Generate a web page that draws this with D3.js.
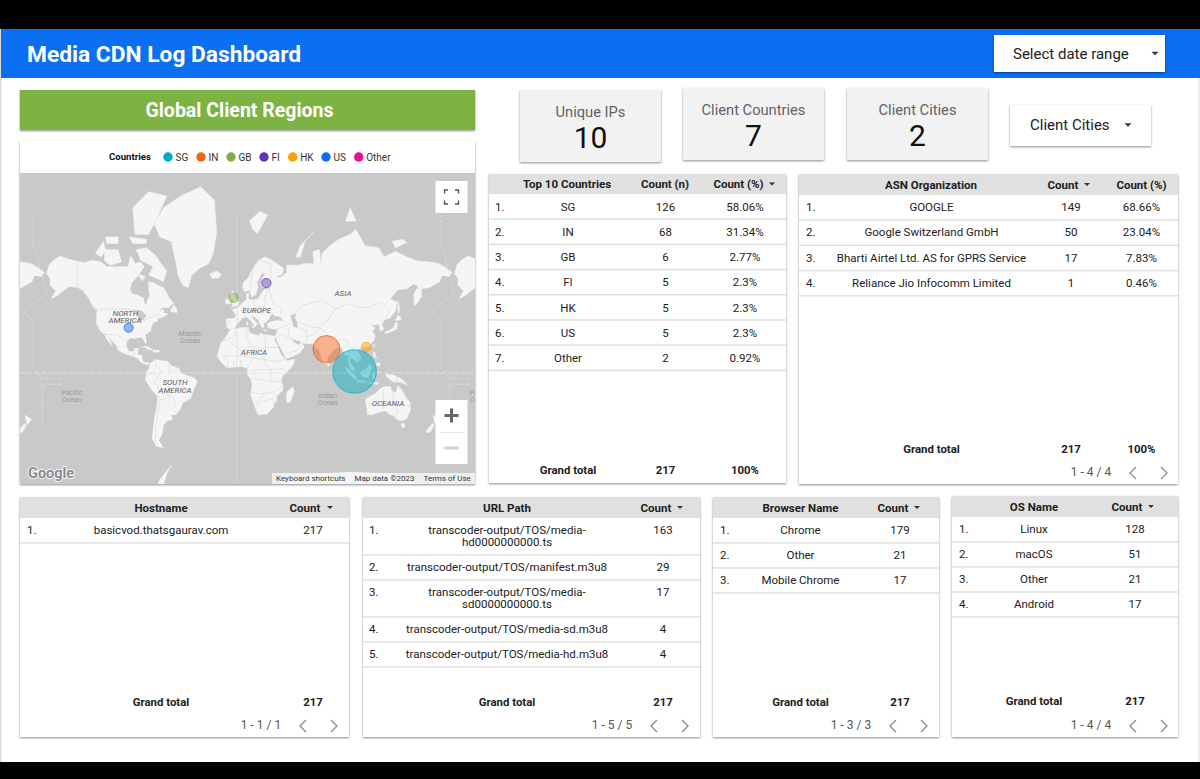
<!DOCTYPE html>
<html>
<head>
<meta charset="utf-8">
<title>Media CDN Log Dashboard</title>
<script src="https://cdn.jsdelivr.net/npm/d3@7"></script>
<style>
    html, body { margin: 0; padding: 0; background: #000; }
    svg { display: block; font-family: Roboto, sans-serif; }
</style>
</head>
<body>
<svg id="board" width="1200" height="779"></svg>
<script>
// table values
const countryNames = ["SG", "IN", "GB", "FI", "HK", "US", "Other"];
const countryCounts = [126, 68, 6, 5, 5, 5, 2];
const countryShares = ["58.06%", "31.34%", "2.77%", "2.3%", "2.3%", "2.3%", "0.92%"];
const countryColors = ["#00acc1", "#f9620e", "#7cb342", "#5e35b1", "#ffa000", "#0d6efd", "#ec0a8c"];
const countryCoords = [[103.8, 1.35], [79, 20.6], [-3.2, 55.2], [25.9, 61.9], [114.1, 22.4], [-95.7, 37.1], null];

const asnNames = ["GOOGLE", "Google Switzerland GmbH", "Bharti Airtel Ltd. AS for GPRS Service", "Reliance Jio Infocomm Limited"];
const asnCounts = [149, 50, 17, 1];
const asnShares = ["68.66%", "23.04%", "7.83%", "0.46%"];

const hostNames = ["basicvod.thatsgaurav.com"];
const hostCounts = [217];

const urlPaths = [
    ["transcoder-output/TOS/media-", "hd0000000000.ts"],
    ["transcoder-output/TOS/manifest.m3u8"],
    ["transcoder-output/TOS/media-", "sd0000000000.ts"],
    ["transcoder-output/TOS/media-sd.m3u8"],
    ["transcoder-output/TOS/media-hd.m3u8"]
];
const urlCounts = [163, 29, 17, 4, 4];

const browserNames = ["Chrome", "Other", "Mobile Chrome"];
const browserCounts = [179, 21, 17];

const osNames = ["Linux", "macOS", "Other", "Android"];
const osCounts = [128, 51, 21, 17];

const grandTotal = 217;

// rough land outlines in lon/lat for the base map
const landShapes = [
    // north america
    [[-168,65.5],[-166,68.5],[-162,70],[-156,71.3],[-150,70.5],[-141,69.7],[-135,69.3],[-128,70],[-120,69.5],[-115,68],[-108,68],[-100,68],[-96,68],[-94,71.5],[-90,69],[-85,69.5],[-82,68],[-87,65],[-93,62],[-94.5,59],[-92.5,57],[-88,56.5],[-82.5,55],[-82,52.5],[-80,51.3],[-79,54],[-77,56],[-78,59],[-78,62.5],[-73,62],[-70,61],[-65,60],[-62,57.5],[-60,55],[-56,52.5],[-60,50],[-66,50],[-70,47],[-65,49],[-65,47],[-61,46],[-66,44],[-70,43.5],[-70,41.7],[-74,40.5],[-76,37],[-76,35],[-81,32],[-80,27],[-80.5,25],[-82,27],[-83,29.5],[-86,30.3],[-90,29.2],[-94,29.5],[-97,27.5],[-97.8,22.5],[-95,18.5],[-91,18.7],[-90.5,21],[-87,21.5],[-88,16],[-84,15.5],[-83.5,11],[-81,9],[-78,9.2],[-77.3,8],[-80,7.5],[-83,8.3],[-86,10.5],[-88,13],[-92,14.5],[-96,16],[-101,17.5],[-105.5,20],[-105.5,22.5],[-109,26],[-112.5,29.5],[-114.5,31.5],[-112,27.5],[-110,23],[-112,25],[-115,28.5],[-117,32.5],[-120.5,34.5],[-124,40],[-124,46],[-123,49],[-128,51.5],[-131,55],[-136,58.5],[-141,60],[-148,60.5],[-152,59],[-158,56.5],[-164,54.7],[-160,58.5],[-165,61],[-165,64]],
    // greenland
    [[-73,78.5],[-65,81],[-50,82.5],[-32,83.5],[-20,82],[-18,77],[-21,72],[-25,69],[-33,67.5],[-40,65],[-43,60],[-48,61],[-52,65],[-54,69.5],[-58,75],[-68,76]],
    // canadian arctic
    [[-80,73.5],[-72,71.5],[-67,69],[-62,66.5],[-65,62.5],[-72,64],[-78,65],[-74,68],[-85,70],[-89,73]],
    [[-117,73],[-105,73],[-102,69.5],[-112,68.5],[-117,70]],
    [[-90,76.5],[-78,76.5],[-72,79],[-62,82.5],[-78,83],[-92,81]],
    [[-125,72],[-118,75],[-116,73],[-120,71]],
    [[-116,76],[-105,76],[-105,74.5],[-115,74.5]],
    [[-95,76],[-80,75.5],[-80,74.5],[-92,74.5]],
    [[-87,65.5],[-81,64.5],[-84,62.8]],
    [[-59,47.7],[-53,46.8],[-53,49],[-56,51.5]],
    [[-128,50.8],[-123.5,48.5],[-125,48.7]],
    // caribbean
    [[-85,22],[-80,23],[-75,20.5],[-74,20],[-78,20],[-82,22.5]],
    [[-74,19.8],[-69,19.8],[-68.5,18.3],[-74,18]],
    // south america
    [[-77,8],[-72,12],[-68,11],[-62,10.5],[-57,6],[-51,4],[-50,0],[-44,-2.5],[-38,-4],[-35,-7],[-37,-12],[-39,-17],[-41,-22],[-48,-25.5],[-50,-30],[-54,-34.5],[-58,-34.5],[-57,-38],[-62,-39],[-65,-42],[-66,-47],[-69,-51],[-65,-55],[-71,-54],[-75,-50],[-73.5,-42],[-73,-37],[-71,-30],[-70,-20],[-75,-15],[-81,-6],[-80,-2],[-80,1],[-77.5,4]],
    // africa
    [[-6,35.7],[3,37],[10,37.3],[11,33.5],[15,32.3],[20,31],[20,33],[25,32],[32,31],[34.3,31.3],[33,28],[35.5,24],[37.5,19],[39.5,15],[43,12],[44,10.7],[51,12],[49,6],[44,1],[40,-3],[39,-7],[40.5,-11],[40.5,-15],[35,-20],[35,-24],[32.7,-26],[32,-29],[27,-33.8],[20,-34.8],[18.3,-34],[15,-27],[12,-18],[13.5,-10],[12,-5],[9,-1],[9.5,4],[5,5.5],[0,5.5],[-4.5,5],[-8,4.5],[-12,7.5],[-15,11],[-17.5,14.7],[-16,20],[-14,26],[-10,30]],
    // eurasia, runs past 180 for chukotka
    [[-9,37],[-9.5,43],[-2,43.5],[-1,46],[-4.5,48.5],[1,50],[4,52],[8,54],[8.5,57],[10.5,57.5],[10,54.5],[14,54],[19,54.5],[21,57],[24,59],[30,60],[23,60],[21,61],[21.5,63],[25,65.5],[22,65.8],[17.5,62],[18.5,60],[16.5,56.5],[13,55.5],[11,59],[7,58],[5,60],[5.5,62],[10,64],[14,67.5],[19,70],[25,71],[31,70],[41,67.5],[40,65.5],[35,64.5],[38,64],[44,66],[44,68.5],[54,68.5],[60,69],[68,69],[67,72.5],[73,73],[74,68],[75,72],[82,74],[90,75.5],[100,76.5],[105,77.5],[113,74],[125,73.5],[130,71],[140,72.5],[150,71],[160,69.7],[170,69.5],[178,69],[185,67.5],[190,66],[187,64.5],[181,65],[179,62.5],[170,60],[163,59.5],[163,56],[160,53],[156.5,51],[156,57],[160,60.5],[156,61.5],[150,59.5],[142,59],[135,54.5],[141,53],[140,48],[135,43.5],[130,42.5],[128,39.5],[129.5,36],[126.5,34.5],[126,37.5],[125,39.5],[121,39],[118,39],[122,37],[119.5,35],[122,31],[121,28],[117,23.5],[113,22],[109,21.5],[106,19],[109,15],[109,11.5],[105,9],[105,10.5],[100.5,13.5],[99.5,10],[103.5,4],[104,1.5],[101,3],[98.5,8],[98,15],[94.5,16],[94,19],[91,22.5],[87,21],[82,16.5],[80,14],[79.5,10],[77.5,8],[75,12],[72.8,19],[72,21],[69,22],[67,25],[61,25.2],[57,25.5],[56,27],[51,28],[48.5,30],[50,26],[51.5,25.5],[54,24],[56.5,26],[59.5,22.5],[55,17],[45,13],[43,13],[39,21],[35,28],[34.5,31.3],[36,36],[32,36.2],[27.5,37],[26.5,39.5],[29,41],[35,42],[41,41.5],[38,44.5],[33,45],[31,46.5],[28,43],[26,41],[23.5,40.5],[24,38],[22.5,36.5],[19.5,41],[19,42.5],[14,45],[12.5,44.5],[16,41.5],[18.5,40],[16,38],[12.5,41.5],[9,44.3],[4,43.5],[3,42],[0,39.5],[-2,36.8],[-5.5,36]],
    // atlantic and arctic islands
    [[-5.5,50],[1.3,51.2],[1.5,52.8],[-1.5,55],[-2,57.5],[-4,58.6],[-6,57],[-5,55],[-3,53.5],[-5,52],[-3,51.4]],
    [[-10,52],[-6,52],[-6,55],[-8,55.3],[-10,54]],
    [[-24,65.5],[-18,66.5],[-14,65.5],[-16,64],[-22,63.8]],
    [[11,79],[20,80.5],[27,80],[18,76.7],[14,77.5]],
    [[52,71],[56,74],[68,77],[60,75],[56,71]],
    [[96,79],[105,79],[100,81]],
    [[137,75],[146,75.5],[150,74.8],[140,73.5]],
    // mediterranean islands
    [[12.5,38],[15.5,38.2],[15,36.8]],
    [[8.3,41],[9.7,41],[9.5,39],[8.5,39]],
    [[23.5,35.5],[26.3,35.3],[24,34.9]],
    // east asia and pacific
    [[142,54],[143.5,50],[143,46.5],[142,47],[142,51]],
    [[130,33],[132,34.5],[136,36],[139,38],[140,41],[142,40],[141,36],[137,34.5],[132,33]],
    [[140,42],[142,45.5],[145.3,43.3],[143,42]],
    [[120,23],[121.5,25],[121,22]],
    [[108.7,19.3],[110.5,20],[110.5,18.5]],
    [[120,16],[121,18.5],[122,17],[122,14],[124,13],[121,13.7]],
    [[122,7.5],[125.5,9.5],[126.5,7],[125,6]],
    [[95.5,5.5],[98,4],[104,-2],[106,-5.8],[102,-4],[98,0]],
    [[105.5,-6.3],[110,-6.5],[114.5,-7.5],[114,-8.6],[106,-7.5]],
    [[109,1],[113,3],[117,7],[119,5],[117.5,1],[116,-4],[110,-3]],
    [[119.5,0],[125,1.5],[121,-1],[122.5,-5],[120,-5.5]],
    [[131,-1],[138,-1.8],[145,-5],[150.5,-10.5],[144,-8],[138,-8],[133,-4]],
    [[116,-8.5],[125,-8.5],[124,-10],[117,-9]],
    [[80,9.5],[82,7.5],[80.5,6],[79.8,8]],
    [[49.3,-12],[50.5,-16],[47,-25],[44,-25],[43.5,-21],[44.5,-16]],
    // australia and new zealand
    [[114,-22],[122,-18],[126,-14],[130,-12],[136,-12],[136,-15],[140,-17.5],[142,-11],[145.5,-15],[149,-21],[153,-25.5],[153,-31],[150,-37],[146,-39],[141,-38],[138,-35],[135,-34.5],[131,-31.5],[124,-33],[119,-34.5],[115,-34.5],[115,-30],[113.5,-25]],
    [[144.7,-40.8],[148.2,-40.8],[147.5,-43.5],[146,-43.5]],
    [[173,-35],[178.5,-37.7],[175,-41.5],[174,-39]],
    [[172.5,-40.6],[174,-42],[170,-46.5],[166.5,-46]],
    // antarctica, only the rim shows
    [[-58,-63],[-62,-66],[-65,-70],[-75,-73],[-68,-68]],
    [[40,-67],[60,-66.5],[100,-65.5],[130,-66],[165,-70],[170,-76],[40,-76]]
];

// inland water cut back out of the land
const waterShapes = [
    [[47,45],[53,46.5],[51,44],[53,41],[54,37],[50,37.5],[49,40.5]],
    [[-92,48.8],[-84,48],[-80,45],[-83,42],[-87,42],[-88,46]]
];

// rough country borders in lon/lat
const borderLines = [
    [[-123,49],[-95,49],[-89,48],[-83,45],[-82,42],[-76,44],[-70,46],[-67,45]],
    [[-141,69.7],[-141,60],[-135,58.5]],
    [[-117,32.5],[-106,31.7],[-101,29.5],[-97,26]],
    [[-92,14.5],[-91,17.5],[-89,18]],
    [[-72,12],[-72,7],[-67,2],[-70,-4],[-74,-8],[-70,-11],[-69,-17],[-58,-20],[-54,-26],[-57,-30],[-53,-33.5]],
    [[-70,-20],[-68,-23],[-70,-33],[-72,-45],[-72,-52]],
    [[-60,8],[-60,1],[-51,4]],
    [[-80,-3],[-75,0],[-70,-4]],
    [[-58,-20],[-62,-22],[-68,-23]],
    [[-9,37],[-7,42]],
    [[-2,43.5],[3,42]],
    [[2,51],[8,49],[7.5,47.5],[7,44]],
    [[7.5,47.5],[17,48],[23,48],[30,46]],
    [[14,54],[15,51],[24,50],[24,54],[28,60]],
    [[19,70],[30,69],[30,61]],
    [[14,67.5],[12,60]],
    [[28,60],[32,52],[40,49.5],[38,46]],
    [[47,45],[58,51],[75,54],[87,49],[98,52],[108,50],[117,50],[127,53],[135,48],[131,43]],
    [[49,40.5],[44,39],[36,36.5]],
    [[53,41],[66,37.5],[74,37],[79,33],[81,30],[88,28],[97,28],[98,24],[101,21.5],[106,23],[108,21.5]],
    [[87,49],[80,42],[74,39]],
    [[54,37],[61,35],[61,25.2]],
    [[61,30],[70,33],[74,37]],
    [[69,24],[72,28],[75,32]],
    [[88,27],[89,22]],
    [[92,21],[98,24]],
    [[98,15],[100,20],[105,18],[107,14],[105,10.5]],
    [[45,37],[46,30],[48,30]],
    [[36,32],[39,32],[46,29],[51,25]],
    [[43,17],[52,19],[55,22],[56,25]],
    [[-2,35],[-1,32],[-9,28],[-13,27]],
    [[9,37],[8,30],[12,23],[4,19],[-5,25]],
    [[25,32],[25,20],[24,10],[27,5],[31,3]],
    [[25,22],[37,22]],
    [[15,23],[14,13],[9,4]],
    [[24,20],[15,23],[12,23]],
    [[-12,15],[-5,15],[4,15],[14,13],[24,12],[35,10],[42,12]],
    [[3,6],[3,12]],
    [[-8,4.5],[-8,10],[-12,15]],
    [[-3,5],[-3,11]],
    [[12,2],[18,3],[31,3],[41,4],[44,1]],
    [[12,-5],[22,-6],[30,-8],[39,-7]],
    [[30,-8],[30,-1],[31,3]],
    [[12,-17],[24,-18],[34,-16],[40,-11]],
    [[17,-28],[20,-22],[24,-18]],
    [[20,-25],[31,-22],[33,-26]],
    [[129,-15],[129,-31]],
    [[138,-16],[138,-26],[141,-26],[141,-38]],
    [[129,-26],[153,-28]],
    [[141,-2.5],[141,-9]]
];

// date line and the other hairlines google draws over the sea
const dateLine = [[-180,80],[-180,74.6],[-168,58],[-189,47],[-180,43],[-180,5],[-174,-1],[-174,-5],[-156,-5],[-156,-10],[-172,-10],[-172,-45]];
const primeMeridian = [[0,80],[0,-70]];
const equatorLine = [[-210,0],[210,0]];

const board = d3.select("#board");

// white page with the black bars left above and below by the screenshot
board.append("rect").attr("width", 1200).attr("height", 779).attr("fill", "#000");
board.append("rect").attr("y", 29).attr("width", 1200).attr("height", 733).attr("fill", "#fff");
board.append("rect").attr("y", 29).attr("width", 1.5).attr("height", 733).attr("fill", "#dcdcdc");
board.append("rect").attr("x", 1198.5).attr("y", 78).attr("width", 1.5).attr("height", 684).attr("fill", "#e8e8e8");

// card shadow and the soft look of the map tiles
const defs = board.append("defs");
defs.append("filter").attr("id", "card").attr("x", "-5%").attr("y", "-5%").attr("width", "110%").attr("height", "115%")
    .append("feDropShadow")
        .attr("dx", 0).attr("dy", 1).attr("stdDeviation", 0.9)
        .attr("flood-color", "#000").attr("flood-opacity", 0.45);
defs.append("filter").attr("id", "soft")
    .attr("filterUnits", "userSpaceOnUse")
    .attr("x", 10).attr("y", 165).attr("width", 475).attr("height", 330)
    .append("feGaussianBlur").attr("stdDeviation", 0.6);
defs.append("clipPath").attr("id", "mapClip")
    .append("rect").attr("x", 20).attr("y", 173).attr("width", 455).attr("height", 311);

function addCard(x, y, w, h, fill) {
    return board.append("rect")
        .attr("x", x).attr("y", y)
        .attr("width", w).attr("height", h)
        .attr("fill", fill || "#fff")
        .attr("filter", "url(#card)");
}

function addText(parent, x, y, label, size, opts) {
    let o = opts || {};
    return parent.append("text")
        .attr("x", x).attr("y", y)
        .attr("dy", "0.35em")
        .attr("text-anchor", o.anchor || "middle")
        .attr("font-size", size)
        .attr("font-weight", o.weight || 400)
        .attr("font-style", o.style || "normal")
        .attr("fill", o.fill || "#212121")
        .text(label);
}

function addCaret(x, y, half) {
    let h = half || 3;
    board.append("path")
        .attr("d", d3.line()([[x - h, y - h / 2], [x + h, y - h / 2], [x, y + h / 2]]) + "Z")
        .attr("fill", "#333");
}

// header bar
board.append("rect").attr("x", 1).attr("y", 29).attr("width", 1199).attr("height", 49).attr("fill", "#0a6ff0");
addText(board, 27, 54, "Media CDN Log Dashboard", 22.75, {anchor: "start", weight: 700, fill: "#fff"});
addCard(994, 35, 171, 37);
addText(board, 1013, 54, "Select date range", 15, {anchor: "start"});
addCaret(1155, 53.5, 3.5);

// green title block
addCard(20, 90, 455, 40, "#7cb342");
addText(board, 239.5, 110, "Global Client Regions", 19.5, {weight: 700, fill: "#fff"});

// scorecards
[
    {x: 520, y: 90, label: "Unique IPs", value: 10, ly: 112, vy: 137},
    {x: 683, y: 88, label: "Client Countries", value: 7, ly: 110, vy: 135},
    {x: 847, y: 88, label: "Client Cities", value: 2, ly: 110, vy: 135}
].forEach(c => {
    addCard(c.x, c.y, 141, 72, "#f2f2f2");
    addText(board, c.x + 70.5, c.ly, c.label, 14.7, {fill: "#5f6368"});
    addText(board, c.x + 70.5, c.vy, c.value, 30, {fill: "#111"});
});

// client cities dropdown
addCard(1010, 105, 141, 41);
addText(board, 1030, 125, "Client Cities", 15, {anchor: "start"});
addCaret(1128, 125, 3.5);

// map card
addCard(20, 141, 455, 343);

// mercator scale worked out from the bubble centres
let projection = d3.geoMercator().scale(64.9).translate([237, 373]);
let lonScale = d3.scaleLinear()
    .domain([0, 360])
    .range([0, 360 * projection.scale() * Math.PI / 180]);

// lat goes through the projection, lon stays linear so shapes can run past 180
function toPoint(d) {
    return [projection([0, d[1]])[0] + lonScale(d[0]), projection([0, d[1]])[1]];
}

let line = d3.line().x(d => toPoint(d)[0]).y(d => toPoint(d)[1]);
let closed = d => line(d) + "Z";

let map = board.append("g").attr("clip-path", "url(#mapClip)");
map.append("rect").attr("x", 20).attr("y", 173).attr("width", 455).attr("height", 311).attr("fill", "#c9c9c9");

let tiles = map.append("g").attr("filter", "url(#soft)");
let worldWidth = lonScale(360);

// the world repeats at the left and right edge of the map
[-worldWidth, 0, worldWidth].forEach(dx => {
    let world = tiles.append("g").attr("transform", `translate(${dx},0)`);

    world.selectAll(".land")
        .data(landShapes)
        .enter()
        .append("path")
            .classed("land", true)
            .attr("d", closed)
            .attr("fill", "#f5f5f5")
            .attr("stroke", "#f5f5f5")
            .attr("stroke-width", 0.5);

    world.selectAll(".water")
        .data(waterShapes)
        .enter()
        .append("path")
            .classed("water", true)
            .attr("d", closed)
            .attr("fill", "#c9c9c9");

    world.selectAll(".border")
        .data(borderLines)
        .enter()
        .append("path")
            .classed("border", true)
            .attr("d", d => line(d))
            .attr("fill", "none")
            .attr("stroke", "#d6d6d6")
            .attr("stroke-width", 0.6);

    world.append("path")
        .attr("d", line(dateLine))
        .attr("fill", "none")
        .attr("stroke", "#e4e4e4")
        .attr("stroke-width", 0.7)
        .attr("stroke-dasharray", "3,2");
});

tiles.append("path")
    .attr("d", line(primeMeridian))
    .attr("fill", "none")
    .attr("stroke", "#d8d8d8")
    .attr("stroke-width", 0.6);

tiles.append("path")
    .attr("d", line(equatorLine))
    .attr("fill", "none")
    .attr("stroke", "#e6e6e6")
    .attr("stroke-width", 0.8)
    .attr("stroke-dasharray", "5,2");

// place names on the map
[
    {x: 125.5, y: 313, t: "NORTH"}, {x: 125, y: 320.5, t: "AMERICA"},
    {x: 343, y: 293, t: "ASIA"}, {x: 256.7, y: 310, t: "EUROPE"},
    {x: 254, y: 352, t: "AFRICA"}, {x: 175, y: 382, t: "SOUTH"},
    {x: 175, y: 390, t: "AMERICA"}, {x: 388, y: 403, t: "OCEANIA"}
].forEach(d => addText(map, d.x, d.y, d.t, 8, {style: "italic", fill: "#5c5c5c"}));

[
    {x: 190, y: 333.5, t: "Atlantic"}, {x: 190, y: 340.7, t: "Ocean"},
    {x: 72, y: 393, t: "Pacific"}, {x: 72, y: 400, t: "Ocean"},
    {x: 480, y: 393, t: "Pacific"}, {x: 480, y: 400, t: "Ocean"},
    {x: 327.5, y: 396, t: "Indian"}, {x: 327.5, y: 403, t: "Ocean"}
].forEach(d => addText(map, d.x, d.y, d.t, 7, {fill: "#9a9a9a"}));

// bubbles, radius grows with the request count
let rScale = d3.scaleLinear().domain([5, 126]).range([4.6, 21.8]);
let bubbles = countryNames
    .map((name, i) => ({name: name, count: countryCounts[i], color: countryColors[i], at: countryCoords[i]}))
    .filter(d => d.at);

map.selectAll(".bubble")
    .data(bubbles)
    .enter()
    .append("circle")
        .classed("bubble", true)
        .attr("cx", d => toPoint(d.at)[0])
        .attr("cy", d => toPoint(d.at)[1])
        .attr("r", d => rScale(d.count))
        .attr("fill", d => d.color)
        .attr("fill-opacity", 0.45)
        .attr("stroke", d => d.color)
        .attr("stroke-opacity", 0.75)
        .attr("stroke-width", 1);

// map controls
board.append("rect").attr("x", 435.5).attr("y", 181).attr("width", 32).attr("height", 32).attr("fill", "#fff");
[[-1, -1], [1, -1], [-1, 1], [1, 1]].forEach(c => {
    let cx = 451.5 + c[0] * 7, cy = 197 + c[1] * 7;
    board.append("path")
        .attr("d", `M${cx},${cy - c[1] * 3.5}L${cx},${cy}L${cx - c[0] * 3.5},${cy}`)
        .attr("fill", "none").attr("stroke", "#555").attr("stroke-width", 1.4);
});
board.append("rect").attr("x", 435.5).attr("y", 400).attr("width", 32).attr("height", 64).attr("fill", "#fff");
board.append("path").attr("d", "M444.5,415.5H458.5M451.5,408.5V422.5").attr("stroke", "#666").attr("stroke-width", 3);
board.append("path").attr("d", "M440,432.5H463").attr("stroke", "#e6e6e6").attr("stroke-width", 1);
board.append("path").attr("d", "M444.5,448H458.5").attr("stroke", "#cfcfcf").attr("stroke-width", 3);

// google logo and attribution strip
map.append("text").attr("x", 28).attr("y", 478)
    .attr("font-size", 14.5).attr("font-weight", 700)
    .attr("fill", "#8c8c8c").attr("stroke", "#fff").attr("stroke-width", 1.6)
    .attr("paint-order", "stroke")
    .text("Google");
map.append("rect").attr("x", 272).attr("y", 473).attr("width", 203).attr("height", 11).attr("fill", "#f5f5f5").attr("fill-opacity", 0.85);
addText(map, 276, 478.5, "Keyboard shortcuts", 8, {anchor: "start", fill: "#333"});
addText(map, 354.5, 478.5, "Map data ©2023", 8, {anchor: "start", fill: "#333"});
addText(map, 423.5, 478.5, "Terms of Use", 8, {anchor: "start", fill: "#333"});

// legend
addText(board, 109, 157, "Countries", 9.6, {anchor: "start", weight: 700, fill: "#111"});
let legendDots = [168, 201, 231, 264, 292.7, 326, 358.7];
countryNames.forEach((name, i) => {
    board.append("circle").attr("cx", legendDots[i]).attr("cy", 157).attr("r", 4.7).attr("fill", countryColors[i]);
    addText(board, legendDots[i] + 7.5, 157, name, 10, {anchor: "start", fill: "#333"});
});

function drawChevrons(x, y) {
    [[x, -1], [x + 31, 1]].forEach(c => {
        board.append("path")
            .attr("d", `M${c[0] - c[1] * 3},${y - 6}L${c[0] + c[1] * 3},${y}L${c[0] - c[1] * 3},${y + 6}`)
            .attr("fill", "none").attr("stroke", "#8a8a8a").attr("stroke-width", 1.3);
    });
}

// one table card, rows given as {rank, cells}, cell text can be two lines
function drawTable(t) {
    addCard(t.x, t.y, t.w, t.h);
    board.append("rect").attr("x", t.x).attr("y", t.y).attr("width", t.w).attr("height", t.headH).attr("fill", "#e0e0e0");

    // header cells
    t.heads.forEach(h => {
        addText(board, h.x, t.y + t.headH / 2, h.label, 11.5, {weight: 700, fill: "#212121"});
        if (h.caret) addCaret(h.caret, t.y + t.headH / 2, 3);
    });

    let y = t.y + t.headH;
    t.rows.forEach((cells, i) => {
        let lines = Array.isArray(cells[0]) ? cells[0] : [cells[0]];
        let rowH = lines.length > 1 ? t.rowH + 12 : t.rowH;
        let top = y + t.rowH / 2 - 0.5 + (t.shift || 0);

        addText(board, t.rankX, top, (i + 1) + ".", 11.5, {anchor: "start"});
        lines.forEach((l, j) => addText(board, t.colX[0], top + j * 11.8, l, 11.5));
        cells.slice(1).forEach((c, j) => addText(board, t.colX[j + 1], top, c, 11.5));

        y += rowH;
        board.append("rect")
            .attr("x", t.x).attr("y", y - 0.8)
            .attr("width", t.w).attr("height", 1.5)
            .attr("fill", "#e0e0e0");
    });

    // grand total row
    addText(board, t.colX[0], t.totalY, "Grand total", 11.4, {weight: 700});
    t.totals.forEach((c, j) => addText(board, t.colX[j + 1], t.totalY, c, 11.4, {weight: 700}));

    if (t.page) {
        addText(board, t.pageX, t.pageY, t.page, 12, {fill: "#555"});
        drawChevrons(t.pageX + 42, t.pageY + 1);
    }
}

drawTable({
    x: 489, y: 174, w: 297, h: 309, headH: 20, rowH: 25.2, rankX: 495, shift: 0.6,
    heads: [
        {label: "Top 10 Countries", x: 567},
        {label: "Count (n)", x: 665},
        {label: "Count (%)", x: 738.5, caret: 772}
    ],
    colX: [568, 665.5, 745],
    rows: countryNames.map((d, i) => [d, countryCounts[i], countryShares[i]]),
    totalY: 470,
    totals: [grandTotal, "100%"]
});

drawTable({
    x: 799, y: 174, w: 379, h: 310, headH: 21, rowH: 25.2, rankX: 806,
    heads: [
        {label: "ASN Organization", x: 931},
        {label: "Count", x: 1063, caret: 1087},
        {label: "Count (%)", x: 1141.5}
    ],
    colX: [931.5, 1071, 1141.5],
    rows: asnNames.map((d, i) => [d, asnCounts[i], asnShares[i]]),
    totalY: 449,
    totals: [grandTotal, "100%"],
    page: "1 - 4 / 4", pageX: 1091, pageY: 472
});

drawTable({
    x: 20, y: 497, w: 329, h: 240, headH: 21, rowH: 25, rankX: 27,
    heads: [
        {label: "Hostname", x: 161},
        {label: "Count", x: 305, caret: 330}
    ],
    colX: [161, 313],
    rows: hostNames.map((d, i) => [d, hostCounts[i]]),
    totalY: 702,
    totals: [grandTotal],
    page: "1 - 1 / 1", pageX: 261, pageY: 725
});

drawTable({
    x: 363, y: 497, w: 337, h: 240, headH: 21, rowH: 25, rankX: 369,
    heads: [
        {label: "URL Path", x: 507},
        {label: "Count", x: 656, caret: 680}
    ],
    colX: [507, 663],
    rows: urlPaths.map((d, i) => [d, urlCounts[i]]),
    totalY: 702,
    totals: [grandTotal],
    page: "1 - 5 / 5", pageX: 612, pageY: 725
});

drawTable({
    x: 713, y: 497, w: 226, h: 240, headH: 21, rowH: 25, rankX: 720,
    heads: [
        {label: "Browser Name", x: 800.5},
        {label: "Count", x: 893, caret: 917}
    ],
    colX: [800.5, 900],
    rows: browserNames.map((d, i) => [d, browserCounts[i]]),
    totalY: 702,
    totals: [grandTotal],
    page: "1 - 3 / 3", pageX: 851, pageY: 725
});

drawTable({
    x: 952, y: 496, w: 226, h: 241, headH: 21, rowH: 25, rankX: 959,
    heads: [
        {label: "OS Name", x: 1034},
        {label: "Count", x: 1127, caret: 1151}
    ],
    colX: [1034, 1135],
    rows: osNames.map((d, i) => [d, osCounts[i]]),
    totalY: 701,
    totals: [grandTotal],
    page: "1 - 4 / 4", pageX: 1091, pageY: 725
});
</script>
</body>
</html>
